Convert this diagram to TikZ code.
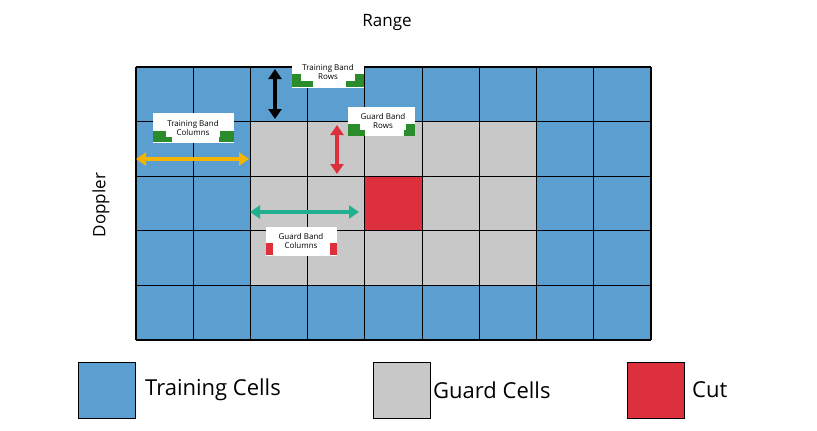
\documentclass[tikz,border=0pt]{standalone}
\usepackage{fontspec}
\setmainfont{Open Sans}
\usetikzlibrary{arrows.meta}
\definecolor{cblue}{HTML}{5B9FD1}
\definecolor{cgray}{HTML}{C8C8C8}
\definecolor{cred}{HTML}{DC303D}
\definecolor{cgreen}{HTML}{2A8C2A}
\definecolor{corange}{HTML}{F5B400}
\definecolor{cteal}{HTML}{20B090}
\tikzset{
  dbl/.style={line width=4.5pt,{Triangle[width=13pt,length=10pt]}-{Triangle[width=13pt,length=10pt]}},
  lab/.style={fill=white,inner sep=1pt,font=\fontsize{8}{9}\selectfont,align=center},
  legtxt/.style={anchor=west,font=\fontsize{22}{24}\selectfont,inner sep=0pt},
  legbox/.style={draw=black,line width=1pt}
}
\begin{document}
\begin{tikzpicture}[x=1pt,y=-1pt]
\useasboundingbox (0,0) rectangle (817,431);
\fill[white] (0,0) rectangle (817,431);
% grid
\fill[cblue] (136,67) rectangle (651,340);
\fill[cgray] (250.4,121.6) rectangle (536.4,285.4);
\fill[cred] (364.8,176.2) rectangle (422,230.8);
\foreach \i in {0,...,9} \draw[line width=1.2pt] (136+57.22*\i,67) -- (136+57.22*\i,340);
\foreach \j in {0,...,5} \draw[line width=1.2pt] (136,67+54.6*\j) -- (651,67+54.6*\j);
% titles
\node[font=\fontsize{17}{20}\selectfont] (range) at (387,22) {Range};
\node[font=\fontsize{17}{20}\selectfont,rotate=90] (dop) at (101,205) {Doppler};
% arrows
\coordinate (b1) at (275,69); \coordinate (b2) at (275,119);
\draw[dbl,black] (b1) -- (b2);
\coordinate (r1) at (337,125); \coordinate (r2) at (337,174);
\draw[dbl,cred] (r1) -- (r2);
\coordinate (o1) at (136,159); \coordinate (o2) at (249,159);
\draw[dbl,corange] (o1) -- (o2);
\coordinate (t1) at (250,212); \coordinate (t2) at (359,212);
\draw[dbl,cteal] (t1) -- (t2);
% labels
\fill[white] (292,57) rectangle (364,88);
\fill[cgreen] (292,74) rectangle (313,87); \fill[cgreen] (346,74) rectangle (364,87);
\node[lab] (l1) at (328,72) {Training Band\\Rows};
\fill[white] (348,107) rectangle (415,136);
\fill[cgreen] (348,124) rectangle (365,136); \fill[cgreen] (404,124) rectangle (415,136);
\node[lab] (l2) at (383,121) {Guard Band\\Rows};
\fill[white] (153,113) rectangle (234,143);
\fill[cgreen] (153,131) rectangle (172,142); \fill[cgreen] (219,131) rectangle (234,142);
\node[lab] (l3) at (193,128) {Training Band\\Columns};
\fill[white] (266,227) rectangle (337,256);
\fill[cred] (266,243) rectangle (273,255); \fill[cred] (330,243) rectangle (337,255);
\node[lab] (l4) at (301,241) {Guard Band\\Columns};
% legend
\fill[cblue,legbox] (78,362) rectangle (135,418);
\node[legtxt] (t1l) at (145,390) {Training Cells};
\fill[cgray,legbox] (373,362) rectangle (430,418);
\node[legtxt] (t2l) at (433,390) {Guard Cells};
\fill[cred,legbox] (627,362) rectangle (684,418);
\node[legtxt] (t3l) at (692,390) {Cut};
\end{tikzpicture}
\end{document}
